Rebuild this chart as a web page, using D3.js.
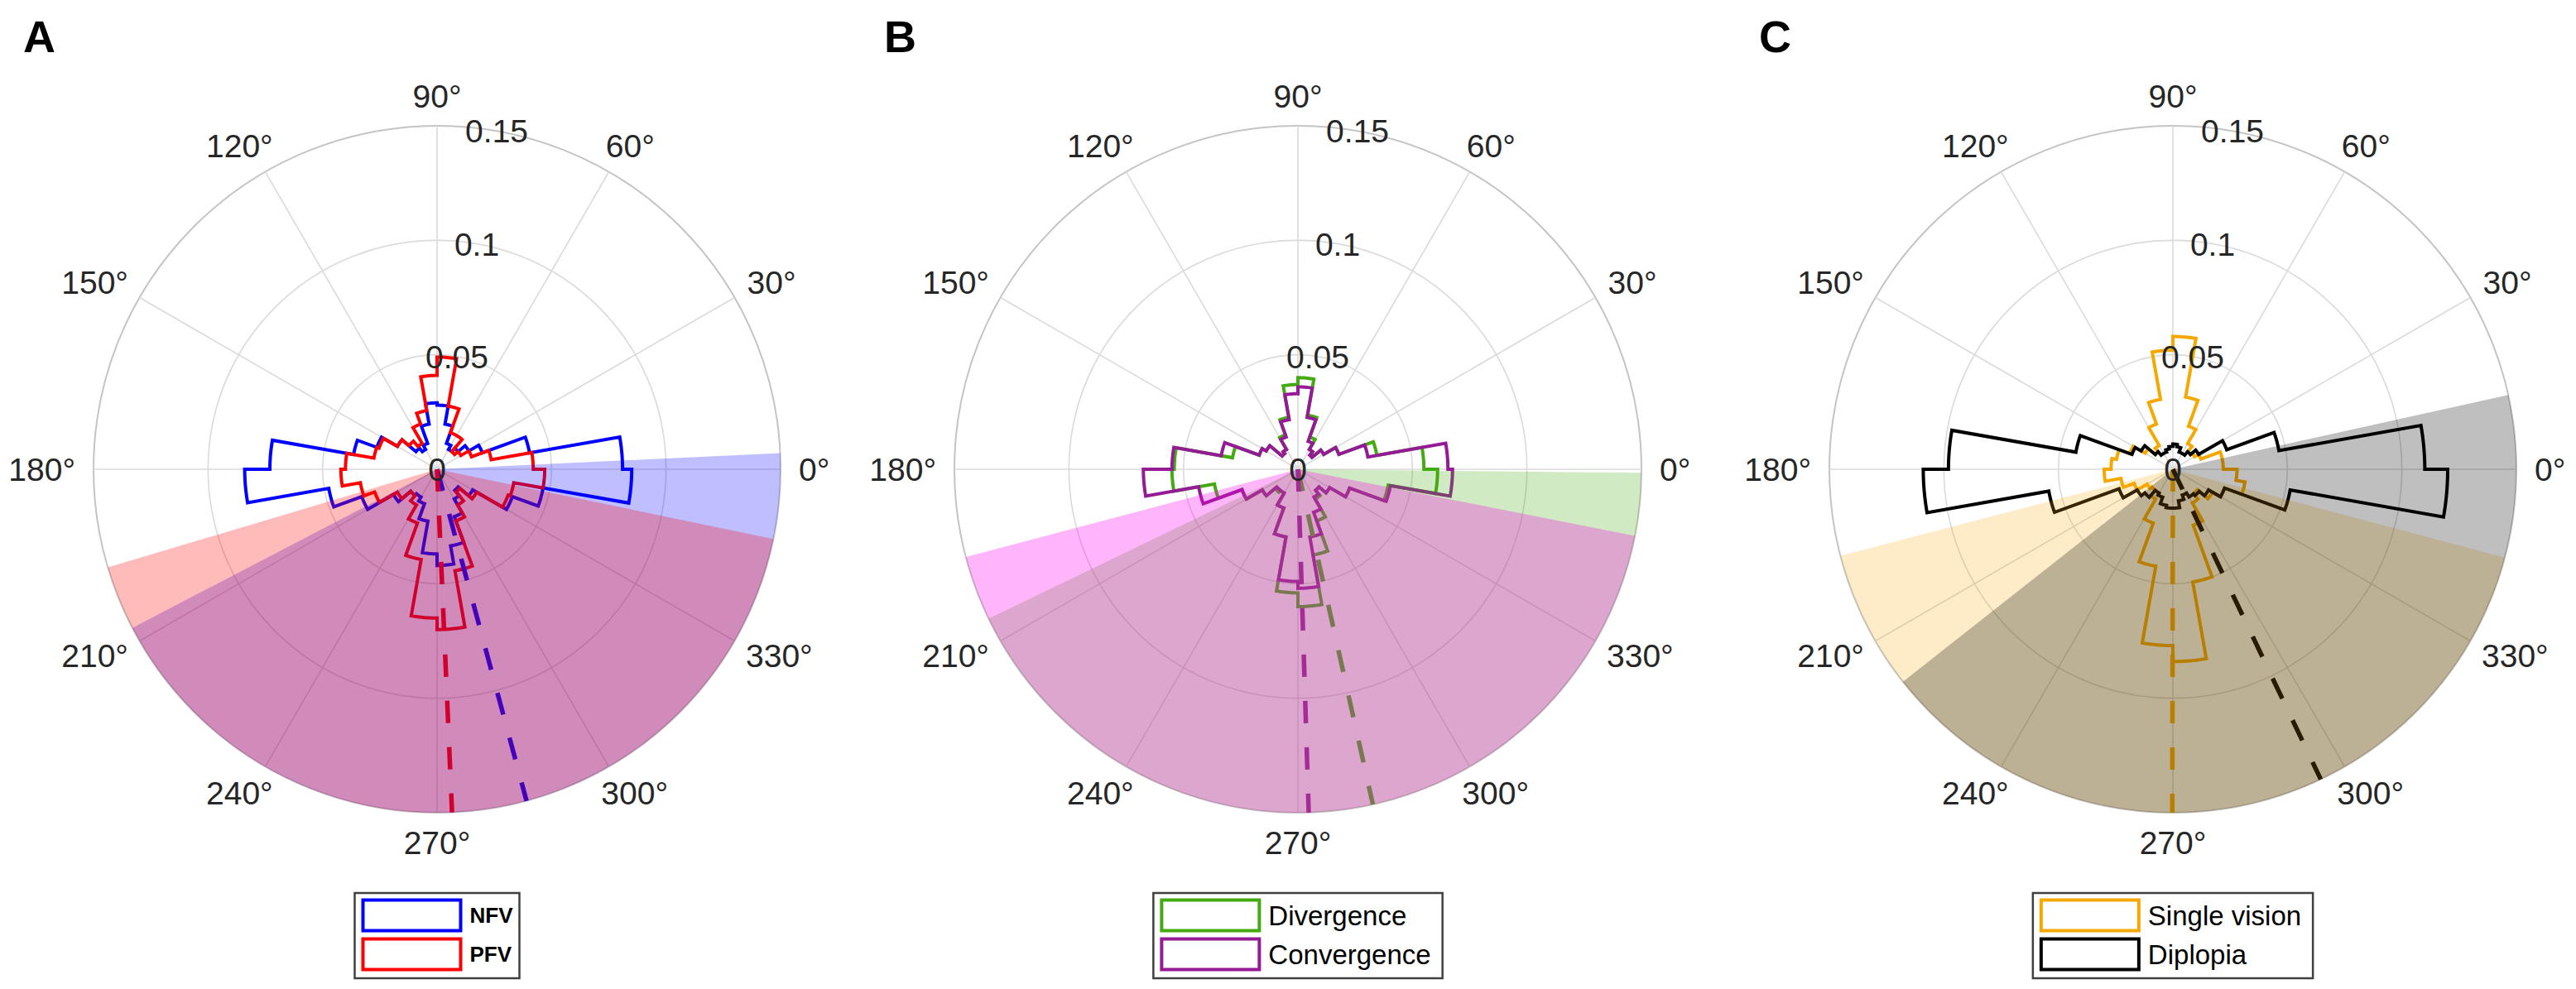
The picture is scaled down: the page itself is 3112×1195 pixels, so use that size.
<!DOCTYPE html>
<html>
<head>
<meta charset="utf-8">
<script src="https://cdn.jsdelivr.net/npm/d3@7"></script>
<style>
  html, body { margin: 0; padding: 0; background: #fff; }
  svg { display: block; }
  text { font-family: "Liberation Sans", Arial, Helvetica, sans-serif; }
</style>
</head>
<body>
<svg id="chart" width="3112" height="1195"></svg>
<script>
// 36 bins of 10 degrees, first bin is [0,10)
var binEdges = d3.range(0, 361, 10);

// probability per bin
var nfv = [0.081, 0.041, 0.021, 0.016, 0.012, 0.010, 0.012, 0.020, 0.028, 0.029, 0.020, 0.012,
           0.010, 0.012, 0.020, 0.028, 0.037, 0.073, 0.084, 0.048, 0.035, 0.022, 0.015, 0.014,
           0.016, 0.023, 0.037, 0.042, 0.034, 0.022, 0.015, 0.012, 0.018, 0.035, 0.047, 0.085];
var pfv = [0.042, 0.024, 0.016, 0.012, 0.010, 0.017, 0.017, 0.028, 0.049, 0.041, 0.026, 0.021,
           0.013, 0.016, 0.020, 0.027, 0.028, 0.040, 0.042, 0.034, 0.029, 0.020, 0.015, 0.018,
           0.025, 0.040, 0.065, 0.070, 0.045, 0.024, 0.018, 0.013, 0.020, 0.033, 0.034, 0.047];
var divergence = [0.055, 0.035, 0.019, 0.013, 0.009, 0.010, 0.015, 0.024, 0.040, 0.037, 0.023, 0.016,
                  0.010, 0.009, 0.016, 0.018, 0.029, 0.054, 0.055, 0.037, 0.026, 0.018, 0.013, 0.012,
                  0.018, 0.030, 0.054, 0.060, 0.038, 0.024, 0.015, 0.012, 0.016, 0.024, 0.040, 0.061];
var convergence = [0.0655, 0.031, 0.019, 0.013, 0.008, 0.010, 0.013, 0.023, 0.036, 0.033, 0.022, 0.015,
                   0.010, 0.009, 0.016, 0.018, 0.034, 0.055, 0.0675, 0.044, 0.026, 0.018, 0.012, 0.012,
                   0.018, 0.030, 0.049, 0.052, 0.030, 0.020, 0.014, 0.012, 0.016, 0.024, 0.041, 0.0675];
var singleVision = [0.022, 0.022, 0.013, 0.011, 0.010, 0.013, 0.020, 0.032, 0.058, 0.052, 0.031, 0.021,
                    0.012, 0.010, 0.014, 0.020, 0.025, 0.027, 0.030, 0.023, 0.018, 0.013, 0.012, 0.015,
                    0.025, 0.043, 0.077, 0.084, 0.050, 0.026, 0.017, 0.014, 0.020, 0.024, 0.032, 0.028];
var diplopia = [0.110, 0.047, 0.025, 0.013, 0.010, 0.008, 0.008, 0.010, 0.011, 0.010, 0.009, 0.008,
                0.008, 0.010, 0.016, 0.019, 0.043, 0.098, 0.109, 0.055, 0.025, 0.018, 0.016, 0.012,
                0.013, 0.016, 0.017, 0.017, 0.014, 0.012, 0.014, 0.015, 0.018, 0.024, 0.052, 0.120];

// mean direction (deg) and shaded spread [from, to] (deg, counter-clockwise)
var meanA = [285.1, 272.5];
var spreadA = [[207.5, 362.7], [196.6, 348.3]];
var meanB = [282.6, 271.8];
var spreadB = [[205.8, 359.4], [194.8, 348.8]];
var meanC = [269.9, 295.5];
var spreadC = [[194.6, 345.1], [218.2, 372.5]];

var rTicks = [0, 0.05, 0.1, 0.15];
var thetaTicks = d3.range(0, 360, 30);

var panels = [
  { letter: "A", cx: 528, bold: true,
    series: [
      { name: "NFV", values: nfv, color: "#0000ff", shade: "#0000ff", alpha: 0.25, mean: meanA[0], spread: spreadA[0] },
      { name: "PFV", values: pfv, color: "#ff0000", shade: "#ff0000", alpha: 0.27, mean: meanA[1], spread: spreadA[1] }
    ] },
  { letter: "B", cx: 1568, bold: false,
    series: [
      { name: "Divergence", values: divergence, color: "#44aa11", shade: "#44aa11", alpha: 0.25, mean: meanB[0], spread: spreadB[0] },
      { name: "Convergence", values: convergence, color: "#951a96", shade: "#ff00ee", alpha: 0.29, mean: meanB[1], spread: spreadB[1] }
    ] },
  { letter: "C", cx: 2625, bold: false,
    series: [
      { name: "Single vision", values: singleVision, color: "#f5a800", shade: "#f5a800", alpha: 0.22, mean: meanC[0], spread: spreadC[0] },
      { name: "Diplopia", values: diplopia, color: "#000000", shade: "#000000", alpha: 0.25, mean: meanC[1], spread: spreadC[1] }
    ] }
];

var svg = d3.select("#chart");
var cy = 567, R = 415;
var tickFont = 39, tickColor = "#262626";

var r = d3.scaleLinear().domain([0, 0.15]).range([0, R]);
// degrees counter-clockwise from east -> d3 radians clockwise from north
var ang = d3.scaleLinear().domain([0, 360]).range([Math.PI / 2, Math.PI / 2 - 2 * Math.PI]);

function polar(deg, rad) {
  var a = deg * Math.PI / 180;
  return [rad * Math.cos(a), -rad * Math.sin(a)];
}

function stairPoints(values) {
  var pts = [];
  values.forEach(function(v, i) {
    for (var a = binEdges[i]; a <= binEdges[i + 1]; a += 1) pts.push([a, v]);
  });
  return pts;
}

var stairs = d3.lineRadial()
  .angle(function(d) { return ang(d[0]); })
  .radius(function(d) { return r(d[1]); })
  .curve(d3.curveLinearClosed);

var wedge = d3.arc().innerRadius(0).outerRadius(R);

function drawPanel(p) {
  var g = svg.append("g").attr("transform", "translate(" + p.cx + "," + cy + ")");

  // grid
  var grid = g.append("g");
  grid.selectAll("circle.ring").data(rTicks.slice(1)).enter().append("circle")
    .attr("r", function(d) { return r(d); })
    .attr("fill", "none")
    .attr("stroke", function(d, i) { return i === rTicks.length - 2 ? "#c4c4c4" : "#dadada"; })
    .attr("stroke-width", function(d, i) { return i === rTicks.length - 2 ? 2 : 1.6; });
  grid.selectAll("line.spoke").data(thetaTicks).enter().append("line")
    .attr("x1", 0).attr("y1", 0)
    .attr("x2", function(d) { return polar(d, R)[0]; })
    .attr("y2", function(d) { return polar(d, R)[1]; })
    .attr("stroke", "#dadada").attr("stroke-width", 1.6);

  // histograms (stairs)
  p.series.forEach(function(s) {
    g.append("path")
      .attr("d", stairs(stairPoints(s.values)))
      .attr("fill", "none")
      .attr("stroke", s.color)
      .attr("stroke-width", 4)
      .attr("stroke-linejoin", "miter");
  });

  // mean direction
  p.series.forEach(function(s) {
    var e = polar(s.mean, R);
    g.append("line")
      .attr("x1", 0).attr("y1", 0).attr("x2", e[0]).attr("y2", e[1])
      .attr("stroke", s.color).attr("stroke-width", 5.5)
      .attr("stroke-dasharray", "27,29");
  });

  // spread wedges, drawn over the lines
  p.series.forEach(function(s) {
    g.append("path")
      .attr("d", wedge({ startAngle: ang(s.spread[1]), endAngle: ang(s.spread[0]) }))
      .attr("fill", s.shade)
      .attr("fill-opacity", s.alpha);
  });

  // theta tick labels
  thetaTicks.forEach(function(t) {
    var txt = g.append("text")
      .attr("font-size", tickFont)
      .attr("fill", tickColor)
      .attr("text-anchor", "middle")
      .text(t + "°");
    var w = txt.node().getComputedTextLength();
    var a = t * Math.PI / 180;
    var base = polar(t, R + 22);
    var x = base[0] + Math.cos(a) * w / 2;
    var y = base[1] - Math.sin(a) * 14;
    txt.attr("x", x).attr("y", y + tickFont * 0.358);
  });

  // r tick labels along 80 degrees
  rTicks.forEach(function(t) {
    var pt = polar(80, r(t));
    g.append("text")
      .attr("x", pt[0]).attr("y", pt[1] + tickFont * 0.358)
      .attr("font-size", tickFont)
      .attr("fill", tickColor)
      .attr("text-anchor", "middle")
      .text(t === 0 ? "0" : d3.format("~g")(t));
  });

  // panel letter
  svg.append("text")
    .attr("x", p.cx - 500).attr("y", 63)
    .attr("font-size", 54).attr("font-weight", "bold")
    .attr("fill", "#000")
    .text(p.letter);

  // legend
  var lg = svg.append("g");
  var fs = p.bold ? 26 : 33;
  var rows = [1106, 1153];
  var swW = 118, swH = 37, pad = 10;
  var texts = p.series.map(function(s, i) {
    return lg.append("text")
      .attr("y", rows[i] + fs * 0.358)
      .attr("font-size", fs)
      .attr("font-weight", p.bold ? "bold" : "normal")
      .attr("fill", "#000")
      .text(s.name);
  });
  var tw = d3.max(texts, function(t) { return t.node().getComputedTextLength(); });
  var boxW = pad + swW + 11 + tw + (p.bold ? 8 : 14);
  var left = p.cx - boxW / 2;
  lg.insert("rect", ":first-child")
    .attr("x", left).attr("y", 1079).attr("width", boxW).attr("height", 103)
    .attr("fill", "#fff").attr("stroke", "#404040").attr("stroke-width", 2.5);
  p.series.forEach(function(s, i) {
    lg.append("rect")
      .attr("x", left + pad).attr("y", rows[i] - swH / 2)
      .attr("width", swW).attr("height", swH)
      .attr("fill", "#fff").attr("stroke", s.color).attr("stroke-width", 4);
    texts[i].attr("x", left + pad + swW + 11);
  });
}

panels.forEach(drawPanel);
</script>
</body>
</html>
